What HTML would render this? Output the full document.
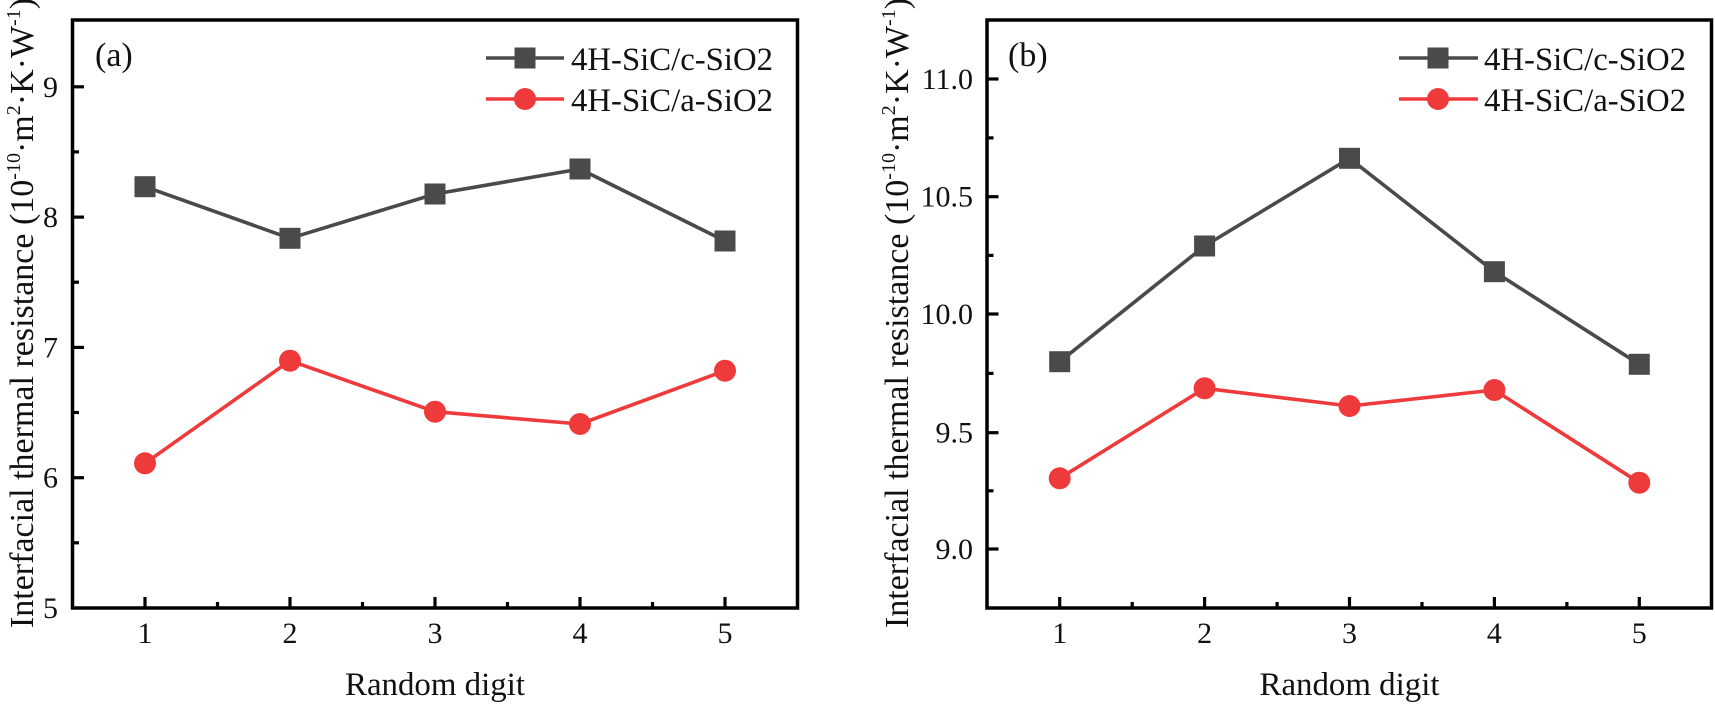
<!DOCTYPE html>
<html>
<head>
<meta charset="utf-8">
<style>
  html, body { margin:0; padding:0; background:#fff; }
  svg { display:block; }
  text { font-family: "Liberation Serif", "Times New Roman", serif; fill:#111; }
</style>
</head>
<body>
<svg width="1715" height="704" viewBox="0 0 1715 704" xmlns="http://www.w3.org/2000/svg">
  <rect width="1715" height="704" fill="#fff"/>

  <!-- ================= LEFT PANEL (a) ================= -->
  <g>
    <rect x="72.5" y="20" width="725" height="588" fill="none" stroke="#000" stroke-width="3.5"/>
    <g stroke="#000" stroke-width="3.2">
      <line x1="72.5" y1="477.7" x2="84" y2="477.7"/>
      <line x1="72.5" y1="347.4" x2="84" y2="347.4"/>
      <line x1="72.5" y1="217.1" x2="84" y2="217.1"/>
      <line x1="72.5" y1="86.8" x2="84" y2="86.8"/>
      <line x1="72.5" y1="542.8" x2="79" y2="542.8"/>
      <line x1="72.5" y1="412.5" x2="79" y2="412.5"/>
      <line x1="72.5" y1="282.2" x2="79" y2="282.2"/>
      <line x1="72.5" y1="151.9" x2="79" y2="151.9"/>
      <line x1="145" y1="608" x2="145" y2="597"/>
      <line x1="290" y1="608" x2="290" y2="597"/>
      <line x1="435" y1="608" x2="435" y2="597"/>
      <line x1="580" y1="608" x2="580" y2="597"/>
      <line x1="725" y1="608" x2="725" y2="597"/>
      <line x1="217.5" y1="608" x2="217.5" y2="602"/>
      <line x1="362.5" y1="608" x2="362.5" y2="602"/>
      <line x1="507.5" y1="608" x2="507.5" y2="602"/>
      <line x1="652.5" y1="608" x2="652.5" y2="602"/>
    </g>
    <g font-size="30" text-anchor="end">
      <text x="58" y="618">5</text>
      <text x="58" y="487.7">6</text>
      <text x="58" y="357.4">7</text>
      <text x="58" y="227.1">8</text>
      <text x="58" y="96.8">9</text>
    </g>
    <g font-size="30" text-anchor="middle">
      <text x="145" y="643">1</text>
      <text x="290" y="643">2</text>
      <text x="435" y="643">3</text>
      <text x="580" y="643">4</text>
      <text x="725" y="643">5</text>
    </g>
    <text x="435" y="695" font-size="33" text-anchor="middle" textLength="180" lengthAdjust="spacingAndGlyphs">Random digit</text>
    <text transform="translate(33,313) rotate(-90)" font-size="34" text-anchor="middle">Interfacial thermal resistance (10<tspan dy="-13" font-size="20">-10</tspan><tspan dy="13">·m</tspan><tspan dy="-13" font-size="20">2</tspan><tspan dy="13">·K·W</tspan><tspan dy="-13" font-size="20">-1</tspan><tspan dy="13">)</tspan></text>
    <text x="95" y="66" font-size="34">(a)</text>

    <polyline points="145,186.7 290,238.3 435,194 580,169 725,241" fill="none" stroke="#4a4a4a" stroke-width="3.6" stroke-linejoin="round"/>
    <g fill="#4a4a4a">
      <rect x="134.5" y="176.2" width="21" height="21"/>
      <rect x="279.5" y="227.8" width="21" height="21"/>
      <rect x="424.5" y="183.5" width="21" height="21"/>
      <rect x="569.5" y="158.5" width="21" height="21"/>
      <rect x="714.5" y="230.5" width="21" height="21"/>
    </g>
    <polyline points="145,463.3 290,360.7 435,411.7 580,424 725,370.7" fill="none" stroke="#ef3a3c" stroke-width="3.6" stroke-linejoin="round"/>
    <g fill="#ef3a3c">
      <circle cx="145" cy="463.3" r="11"/>
      <circle cx="290" cy="360.7" r="11"/>
      <circle cx="435" cy="411.7" r="11"/>
      <circle cx="580" cy="424" r="11"/>
      <circle cx="725" cy="370.7" r="11"/>
    </g>
    <line x1="486" y1="58" x2="564" y2="58" stroke="#4a4a4a" stroke-width="3.6"/>
    <rect x="514.5" y="47.5" width="21" height="21" fill="#4a4a4a"/>
    <text x="571" y="70" font-size="33" textLength="202" lengthAdjust="spacingAndGlyphs">4H-SiC/c-SiO2</text>
    <line x1="486" y1="99" x2="564" y2="99" stroke="#ef3a3c" stroke-width="3.6"/>
    <circle cx="525" cy="99" r="11" fill="#ef3a3c"/>
    <text x="571" y="111" font-size="33" textLength="202" lengthAdjust="spacingAndGlyphs">4H-SiC/a-SiO2</text>
  </g>

  <!-- ================= RIGHT PANEL (b) ================= -->
  <g>
    <rect x="987" y="20" width="724.5" height="588" fill="none" stroke="#000" stroke-width="3.5"/>
    <g stroke="#000" stroke-width="3.2">
      <line x1="987" y1="549" x2="998.5" y2="549"/>
      <line x1="987" y1="432.7" x2="998.5" y2="432.7"/>
      <line x1="987" y1="314" x2="998.5" y2="314"/>
      <line x1="987" y1="196.7" x2="998.5" y2="196.7"/>
      <line x1="987" y1="79" x2="998.5" y2="79"/>
      <line x1="987" y1="490.8" x2="993.5" y2="490.8"/>
      <line x1="987" y1="373.4" x2="993.5" y2="373.4"/>
      <line x1="987" y1="255.4" x2="993.5" y2="255.4"/>
      <line x1="987" y1="137.9" x2="993.5" y2="137.9"/>
      <line x1="1059.7" y1="608" x2="1059.7" y2="597"/>
      <line x1="1204.6" y1="608" x2="1204.6" y2="597"/>
      <line x1="1349.5" y1="608" x2="1349.5" y2="597"/>
      <line x1="1494.4" y1="608" x2="1494.4" y2="597"/>
      <line x1="1639.3" y1="608" x2="1639.3" y2="597"/>
      <line x1="1132.2" y1="608" x2="1132.2" y2="602"/>
      <line x1="1277.1" y1="608" x2="1277.1" y2="602"/>
      <line x1="1422" y1="608" x2="1422" y2="602"/>
      <line x1="1566.9" y1="608" x2="1566.9" y2="602"/>
    </g>
    <g font-size="30" text-anchor="end">
      <text x="973" y="559">9.0</text>
      <text x="973" y="442.7">9.5</text>
      <text x="973" y="324">10.0</text>
      <text x="973" y="206.7">10.5</text>
      <text x="973" y="89">11.0</text>
    </g>
    <g font-size="30" text-anchor="middle">
      <text x="1059.7" y="643">1</text>
      <text x="1204.6" y="643">2</text>
      <text x="1349.5" y="643">3</text>
      <text x="1494.4" y="643">4</text>
      <text x="1639.3" y="643">5</text>
    </g>
    <text x="1349.5" y="695" font-size="33" text-anchor="middle" textLength="180" lengthAdjust="spacingAndGlyphs">Random digit</text>
    <text transform="translate(908,313) rotate(-90)" font-size="34" text-anchor="middle">Interfacial thermal resistance (10<tspan dy="-13" font-size="20">-10</tspan><tspan dy="13">·m</tspan><tspan dy="-13" font-size="20">2</tspan><tspan dy="13">·K·W</tspan><tspan dy="-13" font-size="20">-1</tspan><tspan dy="13">)</tspan></text>
    <text x="1008" y="66" font-size="34">(b)</text>

    <polyline points="1059.7,361.7 1204.6,246 1349.5,158.3 1494.4,271.7 1639.3,364.3" fill="none" stroke="#4a4a4a" stroke-width="3.6" stroke-linejoin="round"/>
    <g fill="#4a4a4a">
      <rect x="1049.2" y="351.2" width="21" height="21"/>
      <rect x="1194.1" y="235.5" width="21" height="21"/>
      <rect x="1339" y="147.8" width="21" height="21"/>
      <rect x="1483.9" y="261.2" width="21" height="21"/>
      <rect x="1628.8" y="353.8" width="21" height="21"/>
    </g>
    <polyline points="1059.7,478.3 1204.6,388.3 1349.5,406 1494.4,390 1639.3,482.7" fill="none" stroke="#ef3a3c" stroke-width="3.6" stroke-linejoin="round"/>
    <g fill="#ef3a3c">
      <circle cx="1059.7" cy="478.3" r="11"/>
      <circle cx="1204.6" cy="388.3" r="11"/>
      <circle cx="1349.5" cy="406" r="11"/>
      <circle cx="1494.4" cy="390" r="11"/>
      <circle cx="1639.3" cy="482.7" r="11"/>
    </g>
    <line x1="1399" y1="58" x2="1478" y2="58" stroke="#4a4a4a" stroke-width="3.6"/>
    <rect x="1427.5" y="47.5" width="21" height="21" fill="#4a4a4a"/>
    <text x="1484" y="70" font-size="33" textLength="202" lengthAdjust="spacingAndGlyphs">4H-SiC/c-SiO2</text>
    <line x1="1399" y1="99" x2="1478" y2="99" stroke="#ef3a3c" stroke-width="3.6"/>
    <circle cx="1438" cy="99" r="11" fill="#ef3a3c"/>
    <text x="1484" y="111" font-size="33" textLength="202" lengthAdjust="spacingAndGlyphs">4H-SiC/a-SiO2</text>
  </g>
</svg>
</body>
</html>
